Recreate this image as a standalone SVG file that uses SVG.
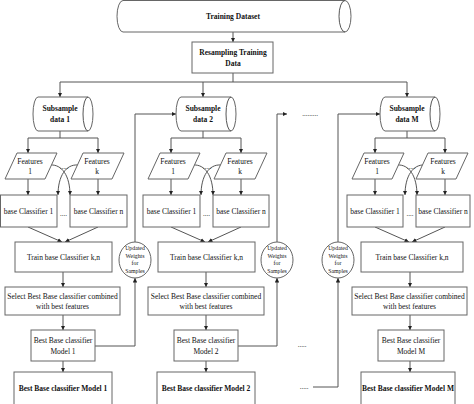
<svg xmlns="http://www.w3.org/2000/svg" width="474" height="404" viewBox="0 0 474 404">
<defs>
<marker id="ah" viewBox="0 0 6 6" refX="6" refY="3" markerWidth="4.5" markerHeight="4.5" orient="auto" markerUnits="userSpaceOnUse">
<path d="M0,0 L6,3 L0,6 Z" fill="#222"/>
</marker>
<style>
.box{fill:#fff;stroke:#666;stroke-width:1}
.ln{fill:none;stroke:#555;stroke-width:1}
.ar{fill:none;stroke:#555;stroke-width:1;marker-end:url(#ah)}
text{font-family:"Liberation Serif","Times New Roman",serif;font-size:7.5px;fill:#111;text-anchor:middle}
.b{font-weight:bold}
.s{font-size:5.8px}
.d{font-size:7px}
</style>
</defs>
<rect width="474" height="404" fill="#fff"/>

<g id="connectors">
<!-- top -->
<path class="ar" d="M233,32 V42"/>
<path class="ln" d="M233,73 V82 M60,82 H407"/>
<path class="ar" d="M60,82 V97"/>
<path class="ar" d="M203,82 V97"/>
<path class="ar" d="M407,82 V97"/>
<!-- col 1 -->
<path class="ln" d="M60,131 V138 M28,138 H98"/>
<path class="ar" d="M28,138 V153"/>
<path class="ar" d="M98,138 V153"/>
<path class="ar" d="M28,179 V195"/>
<path class="ar" d="M98,179 V195"/>
<path class="ar" d="M50,165 C62,164 70,176 70,195"/>
<path class="ar" d="M78,165 C66,164 58,176 58,195"/>
<path class="ar" d="M28,227 L62,242"/>
<path class="ar" d="M98,227 L65,242"/>
<path class="ar" d="M63,272 V287"/>
<path class="ar" d="M63,315 V330"/>
<path class="ar" d="M63,361 V372"/>
<!-- col 2 -->
<path class="ln" d="M203,131 V138 M171,138 H241"/>
<path class="ar" d="M171,138 V153"/>
<path class="ar" d="M241,138 V153"/>
<path class="ar" d="M171,179 V195"/>
<path class="ar" d="M241,179 V195"/>
<path class="ar" d="M193,165 C205,164 213,176 213,195"/>
<path class="ar" d="M221,165 C209,164 201,176 201,195"/>
<path class="ar" d="M171,227 L205,242"/>
<path class="ar" d="M241,227 L208,242"/>
<path class="ar" d="M206,272 V287"/>
<path class="ar" d="M206,315 V330"/>
<path class="ar" d="M206,361 V372"/>
<!-- col M -->
<path class="ln" d="M407,131 V138 M375,138 H445"/>
<path class="ar" d="M375,138 V153"/>
<path class="ar" d="M445,138 V153"/>
<path class="ar" d="M375,179 V195"/>
<path class="ar" d="M445,179 V195"/>
<path class="ar" d="M397,165 C409,164 417,176 417,195"/>
<path class="ar" d="M425,165 C413,164 405,176 405,195"/>
<path class="ar" d="M375,227 L409,242"/>
<path class="ar" d="M445,227 L412,242"/>
<path class="ar" d="M410,272 V287"/>
<path class="ar" d="M410,315 V330"/>
<path class="ar" d="M410,361 V372"/>
<!-- feedback loops -->
<path class="ar" d="M95,346 H135 V278"/>
<path class="ar" d="M135,242 V114 H176"/>
<path class="ar" d="M238,346 H277 V278"/>
<path class="ar" d="M277,242 V114 H287"/>
<path class="ar" d="M313,387 H338 V278"/>
<path class="ar" d="M338,242 V114 H380"/>
</g>

<g id="training-dataset">
<path class="box" d="M123,0.5 H345 A6,15.75 0 0 1 345,32 H123 A6,15.75 0 0 1 123,0.5 Z"/>
<path class="ln" d="M345,0.5 A6,15.75 0 0 0 345,32"/>
<text class="b" x="233" y="19">Training  Dataset</text>
</g>

<g id="resampling">
<rect class="box" x="192" y="42" width="81" height="31"/>
<text class="b" x="233" y="55">Resampling Training</text>
<text class="b" x="233" y="66">Data</text>
</g>

<!-- column 1 -->
<g id="subsample-1">
<path class="box" d="M38,97 H88 A5,17 0 0 1 88,131 H38 A5,17 0 0 1 38,97 Z"/>
<path class="ln" d="M88,97 A5,17 0 0 0 88,131"/>
<text class="b" x="60" y="111">Subsample</text>
<text class="b" x="60" y="122">data 1</text>
</g>
<g id="features-1-1">
<polygon class="box" points="17,153 57,153 45,179 5,179"/>
<text x="30" y="164">Features</text>
<text x="30" y="174">1</text>
</g>
<g id="features-1-k">
<polygon class="box" points="83,153 124,153 112,179 71,179"/>
<text x="97" y="164">Features</text>
<text x="97" y="174">k</text>
</g>
<text class="d" x="64" y="169">.....</text>
<g id="bc-1-1">
<rect class="box" x="0.5" y="195" width="56.5" height="32"/>
<text x="28.5" y="214">base Classifier 1</text>
</g>
<g id="bc-1-n">
<rect class="box" x="70" y="195" width="57" height="32"/>
<text x="98.5" y="214">base Classifier n</text>
</g>
<text class="d" x="63.5" y="216">....</text>
<g id="train-1">
<rect class="box" x="15" y="242" width="97" height="30"/>
<text x="63.5" y="260">Train base Classifier k,n</text>
</g>
<g id="select-1">
<rect class="box" x="5" y="287" width="115" height="28"/>
<text x="62.5" y="299">Select Best Base classifier combined</text>
<text x="62.5" y="309">with best features</text>
</g>
<g id="model-1">
<rect class="box" x="31" y="330" width="64" height="31"/>
<text x="63" y="343">Best Base classifier</text>
<text x="63" y="354">Model 1</text>
</g>
<g id="final-1">
<rect class="box" x="14" y="372" width="98" height="40"/>
<text class="b" x="63" y="391">Best Base classifier Model 1</text>
</g>
<g id="weights-1">
<ellipse class="box" cx="135" cy="260" rx="16" ry="18"/>
<text class="s" x="135" y="250">Updated</text>
<text class="s" x="135" y="257.5">Weights</text>
<text class="s" x="135" y="265">for</text>
<text class="s" x="135" y="272.5">Samples</text>
</g>

<!-- column 2 -->
<g id="subsample-2">
<path class="box" d="M181,97 H231 A5,17 0 0 1 231,131 H181 A5,17 0 0 1 181,97 Z"/>
<path class="ln" d="M231,97 A5,17 0 0 0 231,131"/>
<text class="b" x="203" y="111">Subsample</text>
<text class="b" x="203" y="122">data 2</text>
</g>
<g id="features-2-1">
<polygon class="box" points="160,153 200,153 188,179 148,179"/>
<text x="173" y="164">Features</text>
<text x="173" y="174">1</text>
</g>
<g id="features-2-k">
<polygon class="box" points="226,153 267,153 255,179 214,179"/>
<text x="240" y="164">Features</text>
<text x="240" y="174">k</text>
</g>
<text class="d" x="207" y="169">.....</text>
<g id="bc-2-1">
<rect class="box" x="143" y="195" width="57" height="32"/>
<text x="171.5" y="214">base Classifier 1</text>
</g>
<g id="bc-2-n">
<rect class="box" x="213" y="195" width="56" height="32"/>
<text x="241" y="214">base Classifier n</text>
</g>
<text class="d" x="206.5" y="216">....</text>
<g id="train-2">
<rect class="box" x="158" y="242" width="97" height="30"/>
<text x="206.5" y="260">Train base Classifier k,n</text>
</g>
<g id="select-2">
<rect class="box" x="148" y="287" width="116" height="28"/>
<text x="206" y="299">Select Best Base classifier combined</text>
<text x="206" y="309">with best features</text>
</g>
<g id="model-2">
<rect class="box" x="174" y="330" width="64" height="31"/>
<text x="206" y="343">Best Base classifier</text>
<text x="206" y="354">Model 2</text>
</g>
<g id="final-2">
<rect class="box" x="157" y="372" width="98" height="40"/>
<text class="b" x="206" y="391">Best Base classifier Model 2</text>
</g>
<g id="weights-2">
<ellipse class="box" cx="277" cy="260" rx="16" ry="18"/>
<text class="s" x="277" y="250">Updated</text>
<text class="s" x="277" y="257.5">Weights</text>
<text class="s" x="277" y="265">for</text>
<text class="s" x="277" y="272.5">Samples</text>
</g>

<!-- continuation dots -->
<text class="d" x="310" y="116">.........</text>
<text class="d" x="302" y="347">.....</text>
<text class="d" x="304" y="389">.....</text>

<!-- column M -->
<g id="subsample-M">
<path class="box" d="M385,97 H435 A5,17 0 0 1 435,131 H385 A5,17 0 0 1 385,97 Z"/>
<path class="ln" d="M435,97 A5,17 0 0 0 435,131"/>
<text class="b" x="407" y="111">Subsample</text>
<text class="b" x="407" y="122">data M</text>
</g>
<g id="features-M-1">
<polygon class="box" points="364,153 404,153 392,179 352,179"/>
<text x="377" y="164">Features</text>
<text x="377" y="174">1</text>
</g>
<g id="features-M-k">
<polygon class="box" points="428,153 468,153 456,179 416,179"/>
<text x="443" y="164">Features</text>
<text x="443" y="174">k</text>
</g>
<text class="d" x="411" y="169">.....</text>
<g id="bc-M-1">
<rect class="box" x="347" y="195" width="56" height="32"/>
<text x="375" y="214">base Classifier 1</text>
</g>
<g id="bc-M-n">
<rect class="box" x="416" y="195" width="54" height="32"/>
<text x="443" y="214">base Classifier n</text>
</g>
<text class="d" x="410" y="216">....</text>
<g id="train-M">
<rect class="box" x="361" y="242" width="102" height="30"/>
<text x="412" y="260">Train base Classifier k,n</text>
</g>
<g id="select-M">
<rect class="box" x="352" y="287" width="115" height="28"/>
<text x="409.5" y="299">Select Best Base classifier combined</text>
<text x="409.5" y="309">with best features</text>
</g>
<g id="model-M">
<rect class="box" x="378" y="330" width="66" height="31"/>
<text x="411" y="343">Best Base classifier</text>
<text x="411" y="354">Model M</text>
</g>
<g id="final-M">
<rect class="box" x="361" y="372" width="94" height="40"/>
<text class="b" x="408" y="391">Best Base classifier Model M</text>
</g>
<g id="weights-M">
<ellipse class="box" cx="338" cy="260" rx="16" ry="18"/>
<text class="s" x="338" y="250">Updated</text>
<text class="s" x="338" y="257.5">Weights</text>
<text class="s" x="338" y="265">for</text>
<text class="s" x="338" y="272.5">Samples</text>
</g>
</svg>
